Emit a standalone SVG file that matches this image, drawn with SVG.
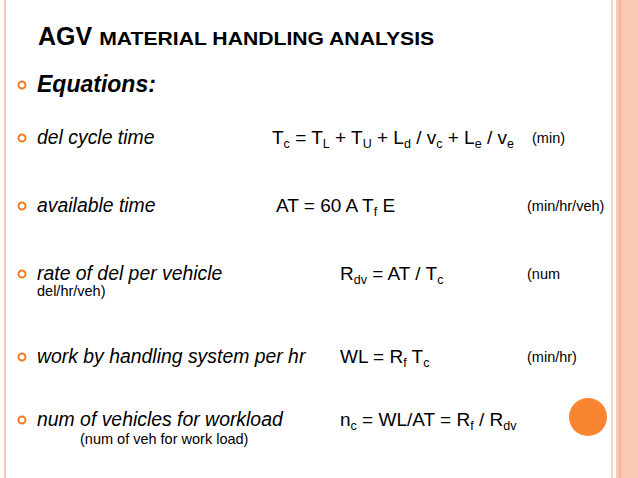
<svg xmlns="http://www.w3.org/2000/svg" width="638" height="478" viewBox="0 0 638 478">
<style>
text{font-family:"Liberation Sans",Arial,sans-serif;fill:#000}
.b{font-size:19.4px;font-style:italic}
.e{font-size:19px}
.u{font-size:14.5px}
.s{font-size:12.5px}
.bul{fill:none;stroke:#f07c28;stroke-width:2}
</style>
<rect width="638" height="478" fill="#fff"/>
<line x1="5" y1="0" x2="5" y2="478" stroke="#f6c8b8" stroke-width="2"/>
<rect x="611" y="0" width="2" height="478" fill="#fbd4c4"/>
<rect x="616" y="0" width="22" height="478" fill="#fcc8b6"/>
<rect x="619" y="0" width="2" height="478" fill="#f4b49c"/>
<g id="title"><text x="38" y="45" font-weight="bold" font-size="25">AGV <tspan font-size="18" textLength="335" lengthAdjust="spacingAndGlyphs">MATERIAL HANDLING ANALYSIS</tspan></text></g>
<g id="bullets">
<circle class="bul" cx="22" cy="85" r="3.5"/>
<circle class="bul" cx="22" cy="138" r="3.5"/>
<circle class="bul" cx="22" cy="206" r="3.5"/>
<circle class="bul" cx="22" cy="274" r="3.5"/>
<circle class="bul" cx="22" cy="357" r="3.5"/>
<circle class="bul" cx="22" cy="420" r="3.5"/>
</g>
<g id="labels">
<text x="37" y="92" font-size="23" font-weight="bold" font-style="italic">Equations:</text>
<text class="b" x="37" y="144">del cycle time</text>
<text class="b" x="37" y="212">available time</text>
<text class="b" x="37" y="280">rate of del per vehicle</text>
<text class="u" x="37" y="296">del/hr/veh)</text>
<text class="b" x="37" y="363">work by handling system per hr</text>
<text class="b" x="37" y="426">num of vehicles for workload</text>
<text class="u" x="80" y="444">(num of veh for work load)</text>
</g>
<g id="equations">
<text class="e" x="272" y="144">T<tspan class="s" dy="4">c</tspan><tspan dy="-4"> = T</tspan><tspan class="s" dy="4">L</tspan><tspan dy="-4"> + T</tspan><tspan class="s" dy="4">U</tspan><tspan dy="-4"> + L</tspan><tspan class="s" dy="4">d</tspan><tspan dy="-4"> / v</tspan><tspan class="s" dy="4">c</tspan><tspan dy="-4"> + L</tspan><tspan class="s" dy="4">e</tspan><tspan dy="-4"> / v</tspan><tspan class="s" dy="4">e</tspan></text>
<text class="u" x="532" y="143">(min)</text>
<text class="e" x="276" y="212">AT = 60 A T<tspan class="s" dy="4">f</tspan><tspan dy="-4"> E</tspan></text>
<text class="u" x="527" y="211">(min/hr/veh)</text>
<text class="e" x="340" y="280">R<tspan class="s" dy="4">dv</tspan><tspan dy="-4"> = AT / T</tspan><tspan class="s" dy="4">c</tspan></text>
<text class="u" x="527" y="279">(num</text>
<text class="e" x="340" y="363">WL = R<tspan class="s" dy="4">f</tspan><tspan dy="-4"> T</tspan><tspan class="s" dy="4">c</tspan></text>
<text class="u" x="527" y="362">(min/hr)</text>
<text class="e" x="340" y="426">n<tspan class="s" dy="4">c</tspan><tspan dy="-4"> = WL/AT  = R</tspan><tspan class="s" dy="4">f</tspan><tspan dy="-4"> / R</tspan><tspan class="s" dy="4">dv</tspan></text>
</g>
<circle cx="588" cy="417" r="19" fill="#f98432"/>
</svg>
